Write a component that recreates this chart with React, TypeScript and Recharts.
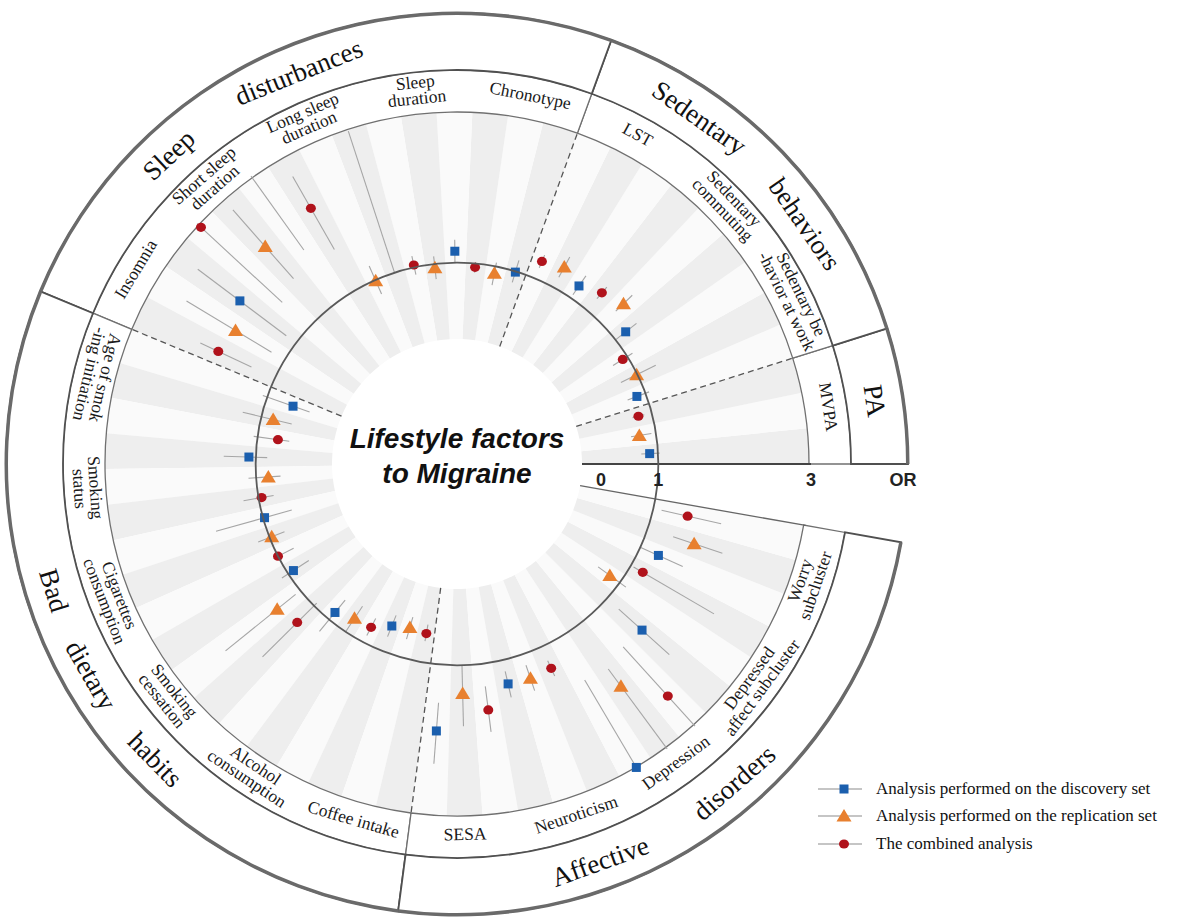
import React from 'react';
import {
  PieChart, Pie, Cell, Label, RadialBarChart, RadialBar,
  PolarAngleAxis, PolarRadiusAxis, PolarGrid, Legend,
} from 'recharts';

// ---------------- data ----------------
const GROUPS = ['PA', 'Sedentary behaviors', 'Sleep disturbances', 'Bad dietary habits', 'Affective disorders'];
const GROUP_SIZES = [1, 3, 5, 6, 5];
const GROUP_SIDE = ['top', 'top', 'top', 'bottom', 'bottom'];

const EXPOSURES = [
  'MVPA',
  'Sedentary be\n-havior at work', 'Sedentary\ncommuting', 'LST',
  'Chronotype', 'Sleep\nduration', 'Long sleep\nduration', 'Short sleep\nduration', 'Insomnia',
  'Age of smok\n-ing initiation', 'Smoking\nstatus', 'Cigarettes\nconsumption', 'Smoking\ncessation', 'Alcohol\nconsumption', 'Coffee intake',
  'SESA', 'Neuroticism', 'Depression', 'Depressed\naffect subcluster', 'Worry\nsubcluster',
];

const SERIES_NAMES = [
  'Analysis performed on the discovery set',
  'Analysis performed on the replication set',
  'The combined analysis',
];

const DISC_OR = [0.89, 0.88, 1.17, 1.19, 0.99, 1.15, null, null, 1.92, 0.64, 1.09, 0.98, 0.92, 0.88, 0.65, 1.87, 1.32, 2.98, 1.62, 1.26];
const DISC_LO = [0.78, 0.75, 1.0, 1.05, 0.85, 1.0, 1.0, 1.81, 1.16, 0.41, 0.85, 0.61, 0.68, 0.67, 0.5, 1.5, 1.15, 1.65, 1.21, 0.99];
const DISC_HI = [1.02, 1.05, 1.35, 1.35, 1.15, 1.3, 2.95, 3.0, 2.61, 1.06, 1.42, 1.64, 1.1, 1.2, 0.8, 2.3, 1.5, 3.0, 2.1, 1.61];

const REP_OR = [0.78, 0.99, 1.39, 1.3, 0.91, 0.95, 0.99, 2.16, 1.75, 0.84, 0.84, 0.97, 1.39, 0.79, 0.59, 1.37, 1.33, 1.98, 0.84, 1.64];
const REP_LO = [0.67, 0.76, 1.25, 1.15, 0.75, 0.8, 0.8, 1.6, 1.2, 0.59, 0.68, 0.79, 1.08, 0.6, 0.45, 1.0, 1.15, 1.7, 0.65, 1.35];
const REP_HI = [0.94, 1.27, 1.55, 1.45, 1.05, 1.1, 1.2, 2.8, 2.5, 1.25, 1.1, 1.16, 2.26, 1.0, 0.75, 1.8, 1.5, 3.0, 1.1, 2.03];

const COMB_OR = [0.82, 0.93, 1.3, 1.24, 0.95, 1.03, 2.22, 2.93, 1.82, 0.73, 0.96, 1.0, 1.31, 0.78, 0.62, 1.61, 1.31, 2.47, 1.18, 1.46];
const COMB_LO = [0.74, 0.78, 1.2, 1.15, 0.88, 0.9, 1.6, 1.48, 1.34, 0.58, 0.8, 0.77, 0.95, 0.65, 0.5, 1.3, 1.2, 1.6, 1.04, 1.11];
const COMB_HI = [0.9, 1.08, 1.4, 1.33, 1.02, 1.15, 2.7, 3.0, 2.08, 1.05, 1.2, 1.07, 1.95, 0.9, 0.72, 1.9, 1.42, 3.0, 2.26, 1.91];

const OR_TICKS = [0, 1, 3];

// ---------------- layout / style ----------------
const W = 1200;
const H = 922;
const CX = 457;
const CY = 464;
const START = 0;
const END = 350;
const R_IN = 125;
const R_OUT = 354;
const LABEL_IN = 352;
const LABEL_OUT = 394;
const GROUP_OUT = 451;
const GRID_IN = 135;

const BLUE = '#1b5fae';
const ORANGE = '#e8802f';
const RED = '#b0121b';
const SERIF = '"Liberation Serif", "Times New Roman", serif';
const SANS = '"Liberation Sans", Arial, sans-serif';

// word placement (absolute angles, degrees) for the group titles
const GROUP_WORD_ANGLES = [[8.6], [55, 34.6], [133, 112], [197.4, 210, 224.4], [289.8, 311]];

// ---------------- derived tables ----------------
const SERIES = [
  { key: 'disc', or: DISC_OR, lo: DISC_LO, hi: DISC_HI },
  { key: 'rep', or: REP_OR, lo: REP_LO, hi: REP_HI },
  { key: 'comb', or: COMB_OR, lo: COMB_LO, hi: COMB_HI },
];
const GROUP_OF: number[] = GROUP_SIZES.flatMap((n, g) => Array(n).fill(g));
const slotData = EXPOSURES.flatMap((name, i) =>
  SERIES.map((s) => ({
    slot: `${i}-${s.key}`,
    kind: s.key,
    or: s.or[i],
    ci: [s.lo[i], s.hi[i]],
    unit: 1,
  })),
);
// recharts places category i of a polar angle axis one band before its band start,
// so the bar chart's arc is turned forward by one band to line up with the rings.
const BAND = (END - START) / slotData.length;
const groupData = GROUPS.map((name, g) => ({ name, size: GROUP_SIZES[g] }));
const exposureData = EXPOSURES.map((name) => ({ name, unit: 1 }));
const boundaryAngles = GROUP_SIZES.slice(0, -1).map((_, g) => {
  const cum = GROUP_SIZES.slice(0, g + 1).reduce((a, b) => a + b, 0);
  return START + ((END - START) * cum) / EXPOSURES.length;
});

// ---------------- helpers ----------------
const polar = (cx: number, cy: number, r: number, a: number) => {
  const rad = (a * Math.PI) / 180;
  return { x: cx + r * Math.cos(rad), y: cy - r * Math.sin(rad) };
};

function Marker({ kind, x, y }: { kind: string; x: number; y: number }) {
  if (kind === 'disc') return <rect x={x - 4.5} y={y - 4.5} width={9} height={9} fill={BLUE} />;
  if (kind === 'rep')
    return <polygon points={`${x},${y - 7} ${x - 7.5},${y + 5.5} ${x + 7.5},${y + 5.5}`} fill={ORANGE} />;
  return <ellipse cx={x} cy={y} rx={5} ry={4.6} fill={RED} />;
}

const PointShape = (props: any) => {
  const { cx, cy, innerRadius, outerRadius, startAngle, endAngle } = props;
  const row = props.payload && props.payload.kind ? props.payload : props;
  const mid = (startAngle + endAngle) / 2;
  const a = polar(cx, cy, innerRadius, mid);
  const b = polar(cx, cy, outerRadius, mid);
  const [lo, hi] = row.ci;
  let est = null;
  if (row.or != null && hi !== lo) {
    const r = innerRadius + ((row.or - lo) / (hi - lo)) * (outerRadius - innerRadius);
    est = polar(cx, cy, r, mid);
  }
  return (
    <g>
      <line x1={a.x} y1={a.y} x2={b.x} y2={b.y} stroke="#a6a6a6" strokeWidth={1.1} />
      {est && <Marker kind={row.kind} x={est.x} y={est.y} />}
    </g>
  );
};

const RadiusTick = (props: any) => {
  const { x, y, payload } = props;
  const v = payload.value;
  return (
    <g>
      {v === 1 && <circle cx={CX} cy={CY} r={Math.abs(x - CX)} fill="none" stroke="#5a5a5a" strokeWidth={1.8} />}
      <text x={v === 0 ? x + 19 : x} y={y + 22} textAnchor="middle" fontFamily={SANS} fontWeight="bold" fontSize={18} fill="#222">
        {v}
      </text>
      {v === 3 && (
        <text x={x + 92} y={y + 22} textAnchor="middle" fontFamily={SANS} fontWeight="bold" fontSize={18} fill="#222">
          OR
        </text>
      )}
    </g>
  );
};

const renderExposureLabel = (props: any) => {
  const { cx, cy, midAngle, innerRadius, outerRadius, index } = props;
  const side = GROUP_SIDE[GROUP_OF[index]];
  const r = (innerRadius + outerRadius) / 2;
  const p = polar(cx, cy, r, midAngle);
  const rot = side === 'top' ? 90 - midAngle : 270 - midAngle;
  const lines = EXPOSURES[index].split('\n');
  const lh = 16;
  return (
    <text
      key={`exp-${index}`}
      transform={`translate(${p.x},${p.y}) rotate(${rot})`}
      textAnchor="middle"
      fontFamily={SERIF}
      fontSize={17.5}
      fill="#1a1a1a"
    >
      {lines.map((l, i) => (
        <tspan key={i} x={0} y={(i - (lines.length - 1) / 2) * lh + 3}>
          {l}
        </tspan>
      ))}
    </text>
  );
};

const renderGroupLabel = (props: any) => {
  const { cx, cy, innerRadius, outerRadius, index } = props;
  const side = GROUP_SIDE[index];
  const words = GROUPS[index].split(' ');
  const r = (innerRadius + outerRadius) / 2;
  return (
    <g key={`grp-${index}`}>
      {words.map((w, k) => {
        const ang = GROUP_WORD_ANGLES[index][k];
        const p = polar(cx, cy, r, ang);
        const rot = side === 'top' ? 90 - ang : 270 - ang;
        return (
          <text
            key={k}
            transform={`translate(${p.x},${p.y}) rotate(${rot})`}
            textAnchor="middle"
            y={9}
            fontFamily={SERIF}
            fontSize={27}
            fill="#111"
          >
            {w}
          </text>
        );
      })}
    </g>
  );
};

const CenterTitle = (props: any) => {
  const vb = props.viewBox || {};
  const cx = vb.cx ?? CX;
  const cy = vb.cy ?? CY;
  return (
    <text textAnchor="middle" fontFamily={SANS} fontStyle="italic" fontWeight="bold" fontSize={28} fill="#111">
      <tspan x={cx} y={cy - 16}>Lifestyle factors</tspan>
      <tspan x={cx} y={cy + 19}>to Migraine</tspan>
    </text>
  );
};

const LegendContent = () => (
  <div style={{ fontFamily: SERIF, fontSize: 17, color: '#111' }}>
    {SERIES.map((s, i) => (
      <div key={s.key} style={{ display: 'flex', alignItems: 'center', height: 27.5 }}>
        <svg width={58} height={20} style={{ flex: 'none' }}>
          <line x1={2} y1={10} x2={46} y2={10} stroke="#8c8c8c" strokeWidth={1.2} />
          <Marker kind={s.key} x={28} y={10} />
        </svg>
        <span style={{ marginLeft: 2, whiteSpace: 'nowrap' }}>{SERIES_NAMES[i]}</span>
      </div>
    ))}
  </div>
);

export default function App() {
  return (
    <div style={{ position: 'absolute', left: 0, top: 0, width: W, height: H, background: '#fff' }}>
      <div style={{ position: 'absolute', left: 0, top: 0 }}>
        <PieChart width={W} height={H} margin={{ top: 0, right: 0, bottom: 0, left: 0 }}>
          {/* background stripes */}
          <Pie
            data={slotData}
            dataKey="unit"
            cx={CX}
            cy={CY}
            innerRadius={R_IN}
            outerRadius={LABEL_IN}
            startAngle={START}
            endAngle={END}
            stroke="none"
            isAnimationActive={false}
          >
            {slotData.map((d, i) => (
              <Cell key={d.slot} fill={i % 2 === 0 ? '#eeeeee' : '#fafafa'} />
            ))}
            <Label position="center" content={CenterTitle} />
          </Pie>
          {/* exposure ring */}
          <Pie
            data={groupData}
            dataKey="size"
            cx={CX}
            cy={CY}
            innerRadius={LABEL_IN}
            outerRadius={LABEL_OUT}
            startAngle={START}
            endAngle={END}
            fill="#fff"
            stroke="#707070"
            strokeWidth={1.3}
            isAnimationActive={false}
          />
          {/* group ring */}
          <Pie
            data={groupData}
            dataKey="size"
            cx={CX}
            cy={CY}
            innerRadius={LABEL_OUT}
            outerRadius={GROUP_OUT}
            startAngle={START}
            endAngle={END}
            fill="#fff"
            stroke="#505050"
            strokeWidth={1.8}
            label={renderGroupLabel}
            labelLine={false}
            isAnimationActive={false}
          />
          {/* thick outer rim */}
          <Pie
            data={groupData}
            dataKey="size"
            cx={CX}
            cy={CY}
            innerRadius={GROUP_OUT - 2}
            outerRadius={GROUP_OUT + 1.5}
            startAngle={START}
            endAngle={END}
            fill="#6a6a6a"
            stroke="none"
            isAnimationActive={false}
          />
          {/* exposure labels */}
          <Pie
            data={exposureData}
            dataKey="unit"
            cx={CX}
            cy={CY}
            innerRadius={LABEL_IN}
            outerRadius={LABEL_OUT}
            startAngle={START}
            endAngle={END}
            fill="none"
            stroke="none"
            label={renderExposureLabel}
            labelLine={false}
            isAnimationActive={false}
          />
        </PieChart>
      </div>
      <div style={{ position: 'absolute', left: 0, top: 0 }}>
        <RadialBarChart
          width={W}
          height={H}
          cx={CX}
          cy={CY}
          innerRadius={R_IN}
          outerRadius={R_OUT}
          startAngle={START + BAND}
          endAngle={END + BAND}
          layout="centric"
          data={slotData}
          margin={{ top: 0, right: 0, bottom: 0, left: 0 }}
        >
          <PolarGrid
            gridType="circle"
            polarAngles={boundaryAngles}
            polarRadius={[]}
            innerRadius={GRID_IN}
            stroke="#555"
            strokeWidth={1.3}
            strokeDasharray="6 4"
          />
          <PolarGrid gridType="circle" polarAngles={[END]} polarRadius={[]} stroke="#666" strokeWidth={1.3} />
          <PolarAngleAxis type="category" dataKey="slot" tick={false} axisLine={false} tickLine={false} />
          <PolarRadiusAxis
            type="number"
            domain={[0, 3]}
            allowDataOverflow
            ticks={OR_TICKS}
            angle={0}
            axisLine={{ stroke: '#444', strokeWidth: 2 }}
            tickLine={false}
            tick={RadiusTick}
          />
          <RadialBar dataKey="ci" shape={PointShape} isAnimationActive={false} legendType="none" />
          <Legend
            layout="vertical"
            align="center"
            verticalAlign="middle"
            content={LegendContent}
            wrapperStyle={{ left: 816, top: 775, width: 384 }}
          />
        </RadialBarChart>
      </div>
    </div>
  );
}
